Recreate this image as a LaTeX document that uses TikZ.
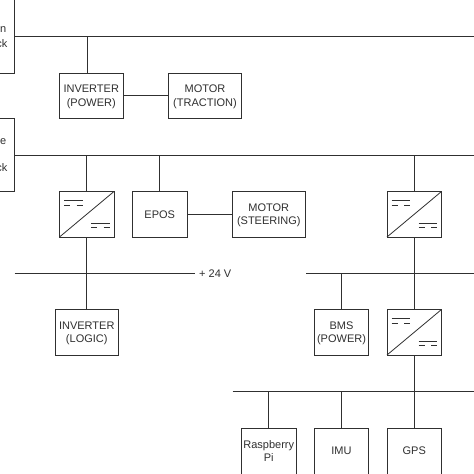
\documentclass[tikz,border=0pt]{standalone}
\usepackage{fontspec}
\setmainfont{Liberation Sans}
\definecolor{ink}{HTML}{303030}
\tikzset{
 wire/.style={draw=ink,line width=1pt},
 box/.style={draw=ink,line width=1pt,inner sep=0pt,outer sep=0pt,minimum height=45.5pt,align=center,text=ink,text depth=0pt,font=\fontsize{11}{13.7}\selectfont},
 openbox/.style={box,draw=none,minimum height=46pt,minimum width=54.5pt},
 lbl/.style={inner sep=0pt,text=ink,font=\fontsize{11}{13.7}\selectfont},
 conv/.style={box,minimum width=54.5pt},
 sym/.style={draw=ink,line width=.8pt}
}
\newcommand{\convsym}[1]{%
 \draw[sym] (#1.south west) -- (#1.north east);
 \draw[sym] ([shift={(4.5,9.2)}]#1.north west) -- ++(18.5,0);
 \draw[sym] ([shift={(4.5,13.7)}]#1.north west) -- ++(6,0);
 \draw[sym] ([shift={(17,13.7)}]#1.north west) -- ++(6,0);
 \draw[sym] ([shift={(31.5,31.7)}]#1.north west) -- ++(18.5,0);
 \draw[sym] ([shift={(31.5,36.2)}]#1.north west) -- ++(6,0);
 \draw[sym] ([shift={(44,36.2)}]#1.north west) -- ++(6,0);
}
\newcommand{\openoutline}[1]{%
 \draw[wire] ([yshift=-4pt]#1.south west) -- (#1.north west) -- (#1.north east) -- ([yshift=-4pt]#1.south east);
}
\begin{document}
\begin{tikzpicture}[x=1pt,y=-1pt]
\useasboundingbox (0,0) rectangle (474,474);
\clip (0,0) rectangle (474,474);
\fill[white] (0,0) rectangle (474,474);
% left boxes
\node[box,minimum width=60pt,minimum height=100pt] (packa) at (-16,23) {};
\node[box,minimum width=60pt,minimum height=72.5pt] (packb) at (-16,154.75) {};
\node[lbl,anchor=east] (ta) at (6.5,30) {n};
\node[lbl,anchor=east] (tb) at (7.5,43.5) {ck};
\node[lbl,anchor=east] (tc) at (6.5,142) {e};
\node[lbl,anchor=east] (td) at (7.5,168) {ck};
% buses
\coordinate (b1r) at (474,36.5);
\coordinate (b1l) at (14,36.5);
\coordinate (b2r) at (474,155);
\coordinate (b2l) at (14,155);
\coordinate (b3l) at (14.5,273);
\coordinate (b3r) at (195,273);
\coordinate (b4l) at (306,273);
\coordinate (b4r) at (474,273);
\coordinate (b5l) at (232.5,391.7);
\coordinate (b5r) at (474,391.7);
\draw[wire] (b1l) -- (b1r);
\draw[wire] (b2l) -- (b2r);
\draw[wire] (b3l) -- (b3r);
\draw[wire] (b4l) -- (b4r);
\draw[wire] (b5l) -- (b5r);
\node[lbl,anchor=west] (v24) at (199,273.7) {+ 24 V};
% boxes
\node[box,minimum width=63.5pt] (invp) at (91.25,95.75) {INVERTER\\(POWER)};
\node[box,minimum width=73pt] (mott) at (205,95.75) {MOTOR\\(TRACTION)};
\node[conv] (c1) at (86.75,214.25) {};
\node[box,minimum width=54.5pt] (epos) at (159.75,214.25) {EPOS};
\node[box,minimum width=73pt] (mots) at (268.8,214.25) {MOTOR\\(STEERING)};
\node[conv] (c2) at (414.25,214.25) {};
\node[box,minimum width=63.5pt] (invl) at (86.75,332.25) {INVERTER\\(LOGIC)};
\node[box,minimum width=54.5pt] (bms) at (341.5,332.25) {BMS\\(POWER)};
\node[conv] (c3) at (414.25,332.25) {};
\node[openbox] (rpi) at (268.75,451) {Raspberry\\Pi};
\node[openbox] (imu) at (341.5,451) {IMU};
\node[openbox] (gps) at (414.25,451) {GPS};
\openoutline{rpi}\openoutline{imu}\openoutline{gps}
\convsym{c1}\convsym{c2}\convsym{c3}
% junctions
\coordinate (j1) at (87,36.5);
\draw[wire] (j1) -- (j1 |- invp.north);
\draw[wire] (invp.east) -- (mott.west);
\draw[wire] (c1.north |- b2l) -- (c1.north);
\draw[wire] (epos.north |- b2l) -- (epos.north);
\draw[wire] (epos.east) -- (mots.west);
\draw[wire] (c2.north |- b2l) -- (c2.north);
\draw[wire] (c1.south) -- (invl.north);
\draw[wire] (c2.south) -- (c3.north);
\draw[wire] (bms.north |- b4l) -- (bms.north);
\draw[wire] (c3.south) -- (gps.north);
\draw[wire] (rpi.north |- b5l) -- (rpi.north);
\draw[wire] (imu.north |- b5l) -- (imu.north);
\end{tikzpicture}
\end{document}
